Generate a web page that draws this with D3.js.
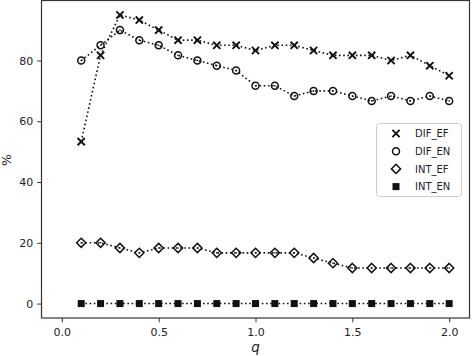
<!DOCTYPE html>
<html><head><meta charset="utf-8">
<script src="https://cdn.jsdelivr.net/npm/d3@7"></script>
<style>body{margin:0;background:#fff}svg{display:block}</style>
</head><body><svg id="c" width="474" height="356"></svg>
<script>
const q = [0.1,0.2,0.3,0.4,0.5,0.6,0.7,0.8,0.9,1.0,1.1,1.2,1.3,1.4,1.5,1.6,1.7,1.8,1.9,2.0];
const difEF = [53.3,81.7,95.0,93.3,90.0,86.7,86.7,85.0,85.0,83.3,85.0,85.0,83.3,81.7,81.7,81.7,80.0,81.7,78.3,75.0];
const difEN = [80.0,85.0,90.0,86.7,85.0,81.7,80.0,78.3,76.7,71.7,71.7,68.3,70.0,70.0,68.3,66.7,68.3,66.7,68.3,66.7];
const intEF = [20.0,20.0,18.3,16.7,18.3,18.3,18.3,16.7,16.7,16.7,16.7,16.7,15.0,13.3,11.7,11.7,11.7,11.7,11.7,11.7];
const intEN = [0,0,0,0,0,0,0,0,0,0,0,0,0,0,0,0,0,0,0,0];
const seriesNames = ["DIF_EF","DIF_EN","INT_EF","INT_EN"];
const seriesMarkers = ["x","o","d","s"];
const xTicks = [0.0,0.5,1.0,1.5,2.0];
const yTicks = [0,20,40,60,80];

const series = [difEF,difEN,intEF,intEN].map((v,i)=>({name:seriesNames[i],marker:seriesMarkers[i],values:v}));

const svg = d3.select("#c");
const L=41.5,R=469.5,T=0.5,B=318;
const x = d3.scaleLinear().domain([-0.105,2.105]).range([L,R]);
const y = d3.scaleLinear().domain([-4.75,99.75]).range([B,T]);
const font = "DejaVu Sans, sans-serif";
const ink = "#111";

// lines
const line = d3.line().x((d,i)=>x(q[i])).y(d=>y(d));
series.forEach(s=>{
  svg.append("path").attr("d",line(s.values)).attr("fill","none")
    .attr("stroke",ink).attr("stroke-width",1.6).attr("stroke-dasharray","1.6,2.6");
});

function drawMarker(g,type,cx,cy,dot){
  if(type==="x"){
    const r=3.6;
    g.append("path").attr("d",`M${cx-r},${cy-r}L${cx+r},${cy+r}M${cx-r},${cy+r}L${cx+r},${cy-r}`)
      .attr("stroke",ink).attr("stroke-width",1.9).attr("fill","none");
  } else if(type==="o"){
    g.append("circle").attr("cx",cx).attr("cy",cy).attr("r",3.5).attr("fill","none").attr("stroke",ink).attr("stroke-width",1.5);
    if(dot) g.append("circle").attr("cx",cx).attr("cy",cy).attr("r",0.8).attr("fill",ink);
  } else if(type==="d"){
    const r=4.6;
    g.append("path").attr("d",`M${cx},${cy-r}L${cx+r},${cy}L${cx},${cy+r}L${cx-r},${cy}Z`).attr("fill","none").attr("stroke",ink).attr("stroke-width",1.5);
    if(dot) g.append("circle").attr("cx",cx).attr("cy",cy).attr("r",0.8).attr("fill",ink);
  } else {
    const r=3.5;
    g.append("rect").attr("x",cx-r).attr("y",cy-r).attr("width",2*r).attr("height",2*r).attr("fill",ink);
  }
}
const mg = svg.append("g");
series.forEach(s=>{
  s.values.forEach((v,i)=>drawMarker(mg,s.marker,x(q[i]),y(v),true));
});

// axes
const xa = svg.append("g").attr("transform",`translate(0,${B})`)
  .call(d3.axisBottom(x).tickValues(xTicks).tickFormat(d3.format(".1f")).tickSize(4.3).tickPadding(5.5));
const ya = svg.append("g").attr("transform",`translate(${L},0)`)
  .call(d3.axisLeft(y).tickValues(yTicks).tickSize(4.3).tickPadding(4));
[xa,ya].forEach(a=>{
  a.select(".domain").remove();
  a.selectAll("line").attr("stroke","#333");
  a.selectAll("text").attr("font-family",font).attr("font-size","11px").attr("fill","#222");
});
svg.append("rect").attr("x",L).attr("y",T).attr("width",R-L).attr("height",B-T)
  .attr("fill","none").attr("stroke","#333").attr("stroke-width",1.2);

svg.append("text").attr("x",(L+R)/2).attr("y",351.5).attr("text-anchor","middle")
  .attr("font-family",font).attr("font-style","italic").attr("font-size","13.5px").attr("fill","#222").text("q");
svg.append("text").attr("transform",`translate(10.5,160) rotate(-90)`).attr("text-anchor","middle")
  .attr("font-family",font).attr("font-size","12.5px").attr("fill","#222").text("%");

// legend
const lg = svg.append("g");
lg.append("rect").attr("x",376.5).attr("y",123.5).attr("width",85).attr("height",73).attr("rx",3)
  .attr("fill","#fff").attr("fill-opacity",0.8).attr("stroke","#ccc");
series.forEach((s,i)=>{
  const cy = 133.5 + i*17.7;
  drawMarker(lg,s.marker,396,cy,false);
  lg.append("text").attr("x",415).attr("y",cy+3.6).attr("font-family",font).attr("font-size","10px").attr("fill","#222").text(s.name);
});
</script></body></html>
